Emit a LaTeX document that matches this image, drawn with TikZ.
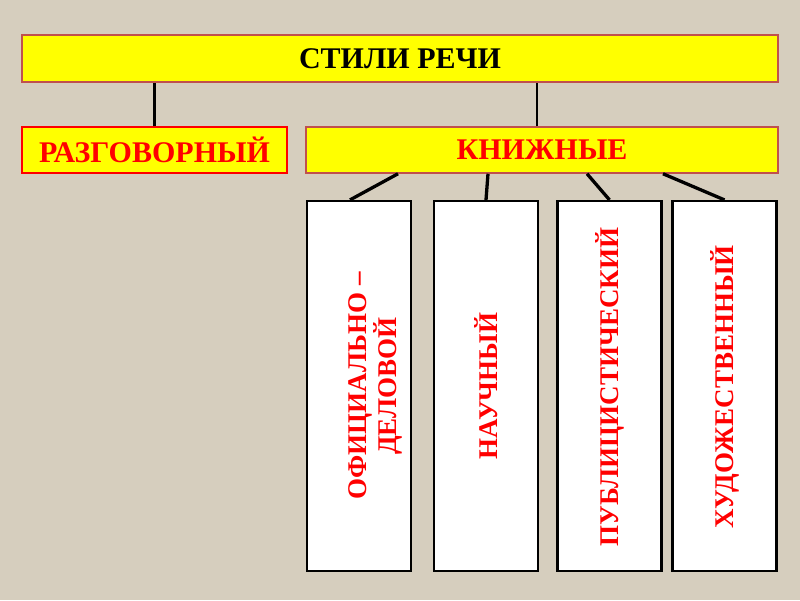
\documentclass[tikz,border=0pt]{standalone}
\usepackage{fontspec}
\setmainfont{Liberation Serif}
\definecolor{bg}{RGB}{214,206,190}
\definecolor{brd}{RGB}{192,80,77}
\definecolor{ylw}{RGB}{255,255,0}
\definecolor{txtred}{RGB}{255,0,0}
\tikzset{
  hbox/.style={draw=brd, line width=1.5pt, fill=ylw, inner sep=0pt, font=\fontsize{30}{32}\selectfont\bfseries},
  vbox/.style={draw=black, line width=2.2pt, fill=white, inner sep=0pt, minimum width=104pt, minimum height=370pt},
  vtxt/.style={rotate=90, text=txtred, font=\fontsize{27}{30}\selectfont\bfseries, align=center, inner sep=0pt},
  conn/.style={draw=black, line width=3.3pt},
  upconn/.style={draw=black, line width=2.8pt}
}
\begin{document}
\begin{tikzpicture}[x=1pt,y=-1pt]
\fill[bg] (0,0) rectangle (800,600);
\useasboundingbox (0,0) rectangle (800,600);
\node[hbox, minimum width=756pt, minimum height=47pt] (top) at (400,58.5) {СТИЛИ РЕЧИ};
\node[hbox, draw=txtred, text=txtred, minimum width=265pt, minimum height=46pt] (razg) at (154.5,150) {РАЗГОВОРНЫЙ};
\node[hbox, text=txtred, minimum width=472pt, minimum height=46pt] (knizh) at (542,150) {КНИЖНЫЕ};
\node[vbox] (b1) at (359,386) {};
\node[vbox] (b2) at (486,386) {};
\node[vbox] (b3) at (609.5,386) {};
\node[vbox] (b4) at (724.5,386) {};
\node[vtxt] (t1) at (375,386) {ОФИЦИАЛЬНО –\\ДЕЛОВОЙ};
\node[vtxt] (t2) at (486,386) {НАУЧНЫЙ};
\node[vtxt] (t3) at (609.5,387) {ПУБЛИЦИСТИЧЕСКИЙ};
\node[vtxt] (t4) at (724.5,387) {ХУДОЖЕСТВЕННЫЙ};
\draw[upconn] (razg.north) -- (razg.north |- top.south);
\draw[upconn] ([xshift=-5pt]knizh.north) -- ([xshift=-5pt]knizh.north |- top.south);
\draw[conn] ([xshift=-144pt]knizh.south) -- ([xshift=-9pt]b1.north);
\draw[conn] ([xshift=-54pt]knizh.south) -- (b2.north);
\draw[conn] ([xshift=45pt]knizh.south) -- (b3.north);
\draw[conn] ([xshift=121pt]knizh.south) -- (b4.north);
\end{tikzpicture}
\end{document}
